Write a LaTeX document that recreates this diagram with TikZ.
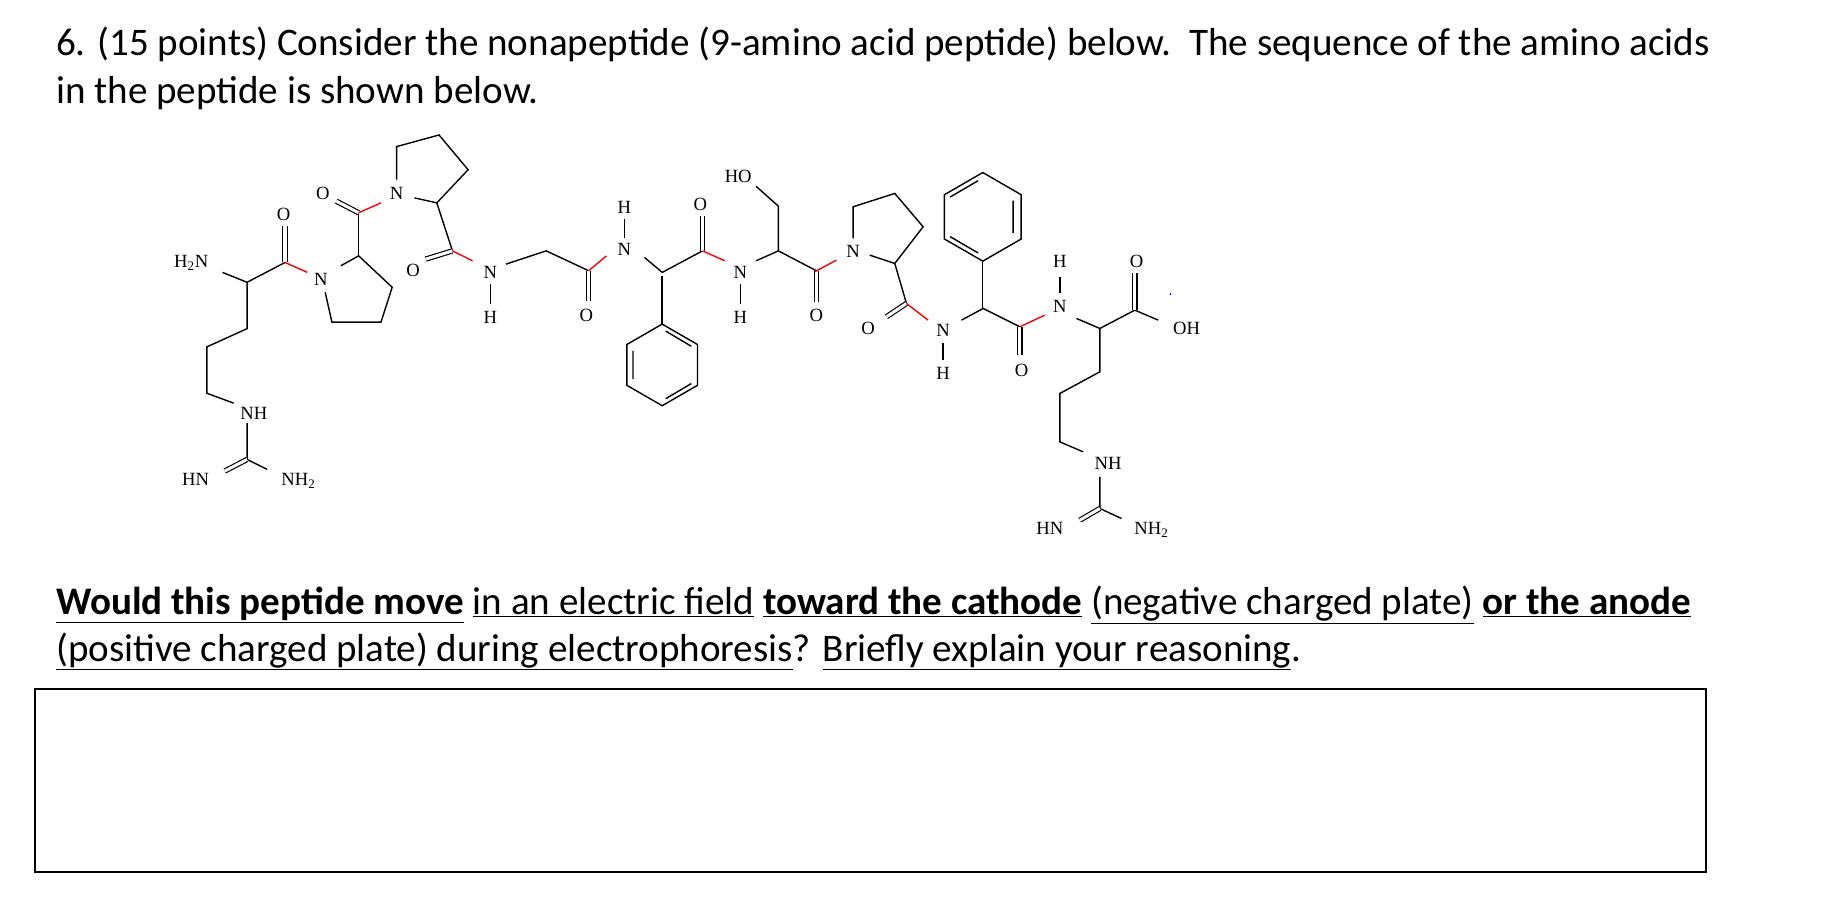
\documentclass[tikz,border=0pt]{standalone}
\usepackage{fontspec}
\setmainfont{Carlito}
\newfontfamily\chem{Liberation Serif}
\begin{document}
\begin{tikzpicture}[x=1pt,y=-1pt,
  bd/.style={line width=1.2pt},
  rd/.style={line width=1.2pt,red},
  dbl/.style={line width=1pt,double,double distance=2.6pt},
  atm/.style={font=\chem\fontsize{16}{16}\selectfont,inner sep=0pt},
  txt/.style={font=\fontsize{33.5}{38}\selectfont,anchor=base west,inner sep=0pt}]
\useasboundingbox (0,0) rectangle (1568,769);
\node[txt] (l1) at (48,48) {6. (15 points) Consider the nonapeptide (9-amino acid peptide) below.\ \ The sequence of the amino acids};
\node[txt] (l2) at (48,89) {in the peptide is shown below.};
\node[txt] (q1) at (48,527) {\underline{\textbf{Would this peptide move}} \underline{in an electric field} \underline{\textbf{toward the cathode}} \underline{(negative charged plate)} \underline{\textbf{or the anode}}};
\node[txt] (q2) at (48,567) {\underline{(positive charged plate) during electrophoresis}? \underline{Briefly explain your reasoning}.};
\draw[line width=1.6pt] (30,591) rectangle (1463,748);
% phenyl rings
\draw[bd] (568,278)--(598.3,295.5)--(598.3,330.5)--(568,348)--(537.7,330.5)--(537.7,295.5)--cycle;
\draw[bd] (568,237)--(568,278);
\draw[bd] (571,284)--(593,297) (593,329)--(571,342) (543,301)--(543,325);
\draw[bd] (843,148)--(875.9,167)--(875.9,205)--(843,224)--(810.1,205)--(810.1,167)--cycle;
\draw[bd] (843,264)--(843,224);
\draw[bd] (815,203)--(839,217) (815,169)--(839,155) (869,172)--(869,200);
% left part
\begin{scope}[shift={(120,103)},xscale=.383,yscale=.284]
\node[atm] (a1) at (115,430) {H\textsubscript{2}N};
\draw[bd] (185,460)--(240,490)--(325,430);
\draw[dbl] (325,430)--(325,320); \node[atm] (o1) at (322,285) {O};
\draw[rd] (325,430)--(375,460); \node[atm] (n1) at (405,480) {N};
\draw[bd] (240,490)--(240,630)--(150,685)--(150,825)--(210,855);
\node[atm] (nh1) at (255,885) {NH};
\draw[bd] (240,915)--(240,1025)--(285,1055);
\draw[dbl] (240,1025)--(190,1060);
\node[atm] (hn1) at (125,1085) {HN}; \node[atm] (nh21) at (355,1090) {NH\textsubscript{2}};
\draw[bd] (415,520)--(430,610)--(540,610)--(565,505)--(490,410)--(450,440);
\draw[bd] (490,410)--(490,280); \draw[dbl] (490,280)--(440,245);
\node[atm] (o2) at (410,220) {O};
\draw[rd] (490,280)--(540,250); \node[atm] (n2) at (575,220) {N};
\draw[bd] (575,180)--(575,80)--(670,45)--(735,150)--(665,250)--(615,235);
\draw[bd] (665,250)--(700,395); \draw[dbl] (700,395)--(640,420);
\node[atm] (o3) at (612,455) {O};
\draw[rd] (700,395)--(745,425); \node[atm] (n3) at (785,460) {N};
\draw[bd] (785,495)--(785,555); \node[atm] (h3) at (785,595) {H};
\draw[bd] (820,435)--(910,395)--(1005,455); \draw[dbl] (1005,455)--(1005,545);
\node[atm] (o4) at (1000,590) {O};
\draw[rd] (1005,455)--(1045,410); \node[atm] (n4) at (1085,390) {N};
\draw[bd] (1085,355)--(1085,300); \node[atm] (h4) at (1085,265) {H};
\draw[bd] (1130,415)--(1170,460)--(1260,395); \draw[dbl] (1260,395)--(1260,290);
\node[atm] (o5) at (1255,255) {O};
\draw[rd] (1260,395)--(1310,425);
\node[atm] (n5) at (1345,460) {N};
\draw[bd] (1345,495)--(1345,555); \node[atm] (h5) at (1345,595) {H};
\draw[bd] (1380,425)--(1430,395)--(1515,455); \draw[dbl] (1515,455)--(1515,550);
\node[atm] (o6) at (1515,590) {O};
\draw[bd] (1430,395)--(1430,260)--(1380,200); \node[atm] (ho) at (1340,170) {HO};
\end{scope}
% right part
\begin{scope}[shift={(686,103)},scale=.286]
\draw[rd] (45,455)--(110,420); \node[atm] (n6) at (160,395) {N};
\draw[bd] (160,355)--(160,260)--(285,220)--(370,320)--(285,430)--(210,405);
\draw[bd] (285,430)--(320,550); \draw[dbl] (320,550)--(260,590);
\node[atm] (o7) at (205,625) {O};
\draw[rd] (320,550)--(385,600); \node[atm] (n7) at (430,630) {N};
\draw[bd] (430,670)--(430,720); \node[atm] (h7) at (430,760) {H};
\draw[bd] (485,600)--(550,565)--(660,620); \draw[dbl] (660,620)--(660,705);
\node[atm] (o8) at (665,750) {O};
\draw[rd] (660,620)--(735,585); \node[atm] (n8) at (780,560) {N};
\draw[bd] (780,520)--(780,470); \node[atm] (h8) at (780,425) {H};
\draw[bd] (830,595)--(900,625)--(1005,570)--(1075,600); \draw[dbl] (1005,570)--(1005,460);
\node[atm] (o9) at (1010,425) {O}; \node[atm] (oh) at (1160,625) {OH};
\fill[blue] (1112,522) circle (3);
\draw[bd] (900,625)--(900,755)--(780,820)--(780,965)--(850,995);
\node[atm] (nh9) at (925,1030) {NH};
\draw[bd] (900,1070)--(900,1165)--(965,1195); \draw[dbl] (900,1165)--(840,1200);
\node[atm] (hn9) at (750,1225) {HN}; \node[atm] (nh29) at (1055,1230) {NH\textsubscript{2}};
\end{scope}
\end{tikzpicture}
\end{document}
